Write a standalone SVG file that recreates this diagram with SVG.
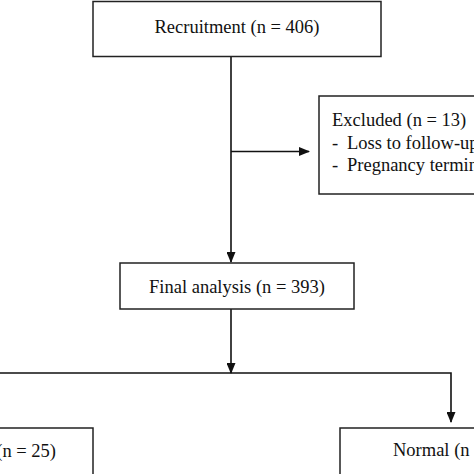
<svg xmlns="http://www.w3.org/2000/svg" width="474" height="474" viewBox="0 0 474 474">
<style>
.box{fill:#fff;stroke:#222;stroke-width:1.5}
.t{font-family:"Liberation Serif","Times New Roman",serif;font-size:18.5px;fill:#111}
.ln{fill:none;stroke:#111;stroke-width:1.6}
</style>
<defs>
<marker id="ah" markerUnits="userSpaceOnUse" markerWidth="11" markerHeight="9" refX="10" refY="4.5" orient="auto" viewBox="0 0 11 9">
<path d="M0,0 L11,4.5 L0,9 z" fill="#111"/>
</marker>
</defs>
<rect width="474" height="474" fill="#fff"/>
<g id="connectors">
<line class="ln" x1="231" y1="57" x2="231" y2="262" marker-end="url(#ah)"/>
<line class="ln" x1="231" y1="151.5" x2="309" y2="151.5" marker-end="url(#ah)"/>
<line class="ln" x1="231" y1="309" x2="231" y2="373" marker-end="url(#ah)"/>
<polyline class="ln" points="-2,373 451,373 451,422" marker-end="url(#ah)"/>
</g>
<g id="recruitment">
<rect class="box" x="93" y="1.5" width="288" height="55"/>
<text class="t" x="237" y="32.5" text-anchor="middle">Recruitment (n = 406)</text>
</g>
<g id="excluded">
<rect class="box" x="319" y="96" width="170" height="98"/>
<text class="t" x="332" y="126">Excluded (n = 13)</text>
<text class="t" y="149"><tspan x="332">-</tspan><tspan x="347">Loss to follow-up</tspan></text>
<text class="t" y="171"><tspan x="332">-</tspan><tspan x="347">Pregnancy termin</tspan></text>
</g>
<g id="final">
<rect class="box" x="120" y="263" width="234" height="46"/>
<text class="t" x="237" y="293" text-anchor="middle">Final analysis (n = 393)</text>
</g>
<g id="left-group">
<rect class="box" x="-10" y="428" width="103" height="60"/>
<text class="t" x="56" y="456.5" text-anchor="end">(n = 25)</text>
</g>
<g id="normal">
<rect class="box" x="340" y="428" width="150" height="60"/>
<text class="t" x="393" y="455.5">Normal (n</text>
</g>
</svg>
